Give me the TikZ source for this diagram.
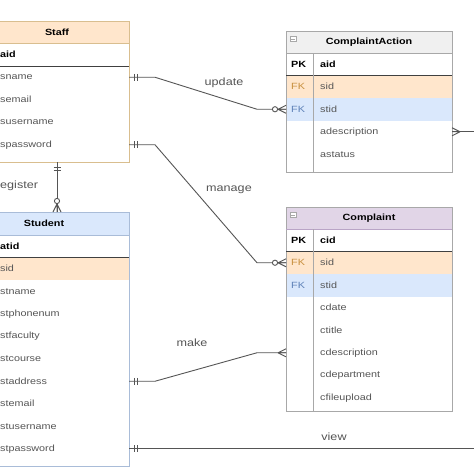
\documentclass[tikz,border=0pt]{standalone}
\usepackage{fontspec}
\setmainfont{Liberation Sans}[FakeStretch=1.2]
\usetikzlibrary{calc}
\definecolor{orfill}{HTML}{FFE6CC}
\definecolor{orline}{HTML}{D9BE8F}
\definecolor{blfill}{HTML}{DAE8FC}
\definecolor{blline}{HTML}{A9BCD8}
\definecolor{pufill}{HTML}{E1D5E7}
\definecolor{puline}{HTML}{B9A4C6}
\definecolor{grfill}{HTML}{F0F0F0}
\definecolor{frame}{HTML}{A8A8A8}
\definecolor{rowtxt}{HTML}{555555}
\definecolor{fkor}{HTML}{C8903F}
\definecolor{fkbl}{HTML}{5F82B8}
\definecolor{connc}{HTML}{555555}
\newcommand\frow[7]{%
  \node[rowbg,fill=#7,minimum width=#3,anchor=west] (#1) at (#2,#4) {};
  \node[fieldtxt] (#1-t) at (#5,#4) {#6};}
\tikzset{
  rowbg/.style={draw=none, minimum height=22.5, inner sep=0, outer sep=0},
  headbox/.style={draw=none, minimum height=22, inner sep=0, outer sep=0, anchor=north west},
  framebox/.style={fill=none, inner sep=0, outer sep=0, anchor=north west, line width=0.8},
  fieldtxt/.style={anchor=west, inner sep=0, font=\fontsize{9}{10}\selectfont, text=rowtxt},
  pktxt/.style={anchor=west, inner sep=0, font=\fontsize{9}{10}\selectfont\bfseries, text=black},
  fktxt/.style={anchor=west, inner sep=0, font=\fontsize{9}{10}\selectfont},
  titletxt/.style={inner sep=0, font=\fontsize{9}{10}\selectfont\bfseries, text=black},
  reltxt/.style={inner sep=0, font=\fontsize{10.5}{12}\selectfont, text=rowtxt},
  relline/.style={draw=connc, line width=0.9},
  sepline/.style={draw=black!75, line width=1},
  pics/crowW/.style={code={\draw[relline] (-8,0)--(0,-4) (-8,0)--(0,0) (-8,0)--(0,4);}},
  pics/ringW/.style={code={\draw[relline,fill=white] (-11,0) circle[radius=2.6];}},
  pics/crowE/.style={code={\draw[relline] (8,0)--(0,-4) (8,0)--(0,0) (8,0)--(0,4);}},
  pics/barsE/.style={code={\draw[relline] (5,-3.5)--(5,3.5) (8,-3.5)--(8,3.5);}},
  pics/barsS/.style={code={\draw[relline] (-3.5,5)--(3.5,5) (-3.5,8)--(3.5,8);}},
  pics/crowN/.style={code={\draw[relline] (0,-8)--(-4,0) (0,-8)--(0,0) (0,-8)--(4,0);}},
  pics/ringN/.style={code={\draw[relline,fill=white] (0,-11) circle[radius=2.6];}},
  pics/tblicon/.style={code={\draw[frame,fill=white,line width=0.5] (-3,-2.5) rectangle (3,2.5); \draw[frame,line width=0.5] (-1.8,0)--(1.8,0);}}
}
\begin{document}
\begin{tikzpicture}[x=1pt,y=-1pt]
\useasboundingbox (0,0) rectangle (474,474);
\fill[white] (0,0) rectangle (474,474);
\clip (0,0) rectangle (474,474);

% ---------------- Staff ----------------
\node[headbox,fill=orfill,minimum width=144] (st-head) at (-15,21) {};
\frow{st-pk}{-15}{144}{54.75}{0}{}{white}
\node[pktxt] (st-pk-t) at (0,54.75) {aid};
\frow{st-sname}{-15}{144}{77.25}{0}{sname}{white}
\frow{st-semail}{-15}{144}{99.75}{0}{semail}{white}
\frow{st-suser}{-15}{144}{122.25}{0}{susername}{white}
\frow{st-spass}{-15}{144}{144.75}{0}{spassword}{white}
\node[framebox,draw=orline,minimum width=144,minimum height=141] (staff) at (-15,21) {};
\draw[orline,line width=0.8] (st-head.south west) -- (st-head.south east);
\draw[sepline] (st-pk.south west) -- (st-pk.south east);
\node[titletxt] (st-title) at (st-head) {Staff};

% ---------------- Student ----------------
\node[headbox,fill=blfill,minimum width=170,minimum height=23] (su-head) at (-41,212) {};
\frow{su-pk}{-41}{170}{246.25}{0}{}{white}
\node[pktxt] (su-pk-t) at (0,246.25) {atid};
\frow{su-sid}{-41}{170}{268.75}{0}{sid}{orfill}
\frow{su-stname}{-41}{170}{291.25}{0}{stname}{white}
\frow{su-stphone}{-41}{170}{313.75}{0}{stphonenum}{white}
\frow{su-stfac}{-41}{170}{336.25}{0}{stfaculty}{white}
\frow{su-stcourse}{-41}{170}{358.75}{0}{stcourse}{white}
\frow{su-staddr}{-41}{170}{381.25}{0}{staddress}{white}
\frow{su-stemail}{-41}{170}{403.75}{0}{stemail}{white}
\frow{su-stuser}{-41}{170}{426.25}{0}{stusername}{white}
\frow{su-stpass}{-41}{170}{448.75}{0}{stpassword}{white}
\node[framebox,draw=blline,minimum width=170,minimum height=254] (student) at (-41,212) {};
\draw[blline,line width=0.8] (su-head.south west) -- (su-head.south east);
\draw[sepline] (su-pk.south west) -- (su-pk.south east);
\node[titletxt] (su-title) at (su-head) {Student};

% ---------------- ComplaintAction ----------------
\node[headbox,fill=grfill,minimum width=166] (ca-head) at (286,31) {};
\frow{ca-pk}{286}{166}{64.25}{320}{}{white}
\node[pktxt] (ca-pk-k) at (291,64.25) {PK};
\node[pktxt] (ca-pk-t) at (320,64.25) {aid};
\frow{ca-sid}{286}{166}{86.75}{320}{sid}{orfill}
\node[fktxt,text=fkor] (ca-sid-k) at (291,86.75) {FK};
\frow{ca-stid}{286}{166}{109.25}{320}{stid}{blfill}
\node[fktxt,text=fkbl] (ca-stid-k) at (291,109.25) {FK};
\frow{ca-adesc}{286}{166}{131.75}{320}{adescription}{white}
\frow{ca-astat}{286}{166}{154.25}{320}{astatus}{white}
\node[framebox,draw=frame,minimum width=166,minimum height=141] (cact) at (286,31) {};
\draw[frame,line width=0.8] (ca-head.south west) -- (ca-head.south east);
\draw[sepline] (ca-pk.south west) -- (ca-pk.south east);
\draw[frame,line width=0.8] (313,53) -- (313,172);
\node[titletxt] (ca-title) at (ca-head) {ComplaintAction};
\pic at (293,39) {tblicon};

% ---------------- Complaint ----------------
\node[headbox,fill=pufill,minimum width=166] (cp-head) at (286,207) {};
\frow{cp-pk}{286}{166}{240.25}{320}{}{white}
\node[pktxt] (cp-pk-k) at (291,240.25) {PK};
\node[pktxt] (cp-pk-t) at (320,240.25) {cid};
\frow{cp-sid}{286}{166}{262.75}{320}{sid}{orfill}
\node[fktxt,text=fkor] (cp-sid-k) at (291,262.75) {FK};
\frow{cp-stid}{286}{166}{285.25}{320}{stid}{blfill}
\node[fktxt,text=fkbl] (cp-stid-k) at (291,285.25) {FK};
\frow{cp-cdate}{286}{166}{307.75}{320}{cdate}{white}
\frow{cp-ctitle}{286}{166}{330.25}{320}{ctitle}{white}
\frow{cp-cdesc}{286}{166}{352.75}{320}{cdescription}{white}
\frow{cp-cdept}{286}{166}{375.25}{320}{cdepartment}{white}
\frow{cp-cfile}{286}{166}{397.75}{320}{cfileupload}{white}
\node[framebox,draw=frame,minimum width=166,minimum height=204] (complaint) at (286,207) {};
\draw[puline,line width=0.8] (cp-head.south west) -- (cp-head.south east);
\draw[sepline] (cp-pk.south west) -- (cp-pk.south east);
\draw[frame,line width=0.8] (313,229) -- (313,411);
\node[titletxt] (cp-title) at (cp-head) {Complaint};
\pic at (293,215) {tblicon};

% ---------------- Relationships ----------------
% update
\draw[relline] (st-sname.east) -- ++(26,0) -- ($(ca-stid.west)+(-29,0)$) -- (ca-stid.west);
\pic at (st-sname.east) {barsE};
\pic at (ca-stid.west) {crowW};
\pic at (ca-stid.west) {ringW};
\node[reltxt] (lbl-update) at (224,83) {update};
% manage
\draw[relline] (st-spass.east) -- ++(26,0) -- ($(cp-sid.west)+(-29,0)$) -- (cp-sid.west);
\pic at (st-spass.east) {barsE};
\pic at (cp-sid.west) {crowW};
\pic at (cp-sid.west) {ringW};
\node[reltxt] (lbl-manage) at (229,190) {manage};
% make
\draw[relline] (su-staddr.east) -- ++(26,0) -- ($(cp-cdesc.west)+(-29,0)$) -- (cp-cdesc.west);
\pic at (su-staddr.east) {barsE};
\pic at (cp-cdesc.west) {crowW};
\node[reltxt] (lbl-make) at (192,343) {make};
% view
\coordinate (viewend) at (480,448.75);
\draw[relline] (su-stpass.east) -- (viewend);
\pic at (su-stpass.east) {barsE};
\node[reltxt] (lbl-view) at (334,437) {view};
% incoming on ComplaintAction
\coordinate (caRin) at (480,131.75);
\draw[relline] (caRin) -- (ca-adesc.east);
\pic at (ca-adesc.east) {crowE};
% register
\draw[relline] (staff.south) -- (staff.south |- student.north);
\pic at (staff.south) {barsS};
\pic at (staff.south |- student.north) {crowN};
\pic at (staff.south |- student.north) {ringN};
\node[reltxt,anchor=west] (lbl-register) at (0,186) {egister};
\end{tikzpicture}
\end{document}
